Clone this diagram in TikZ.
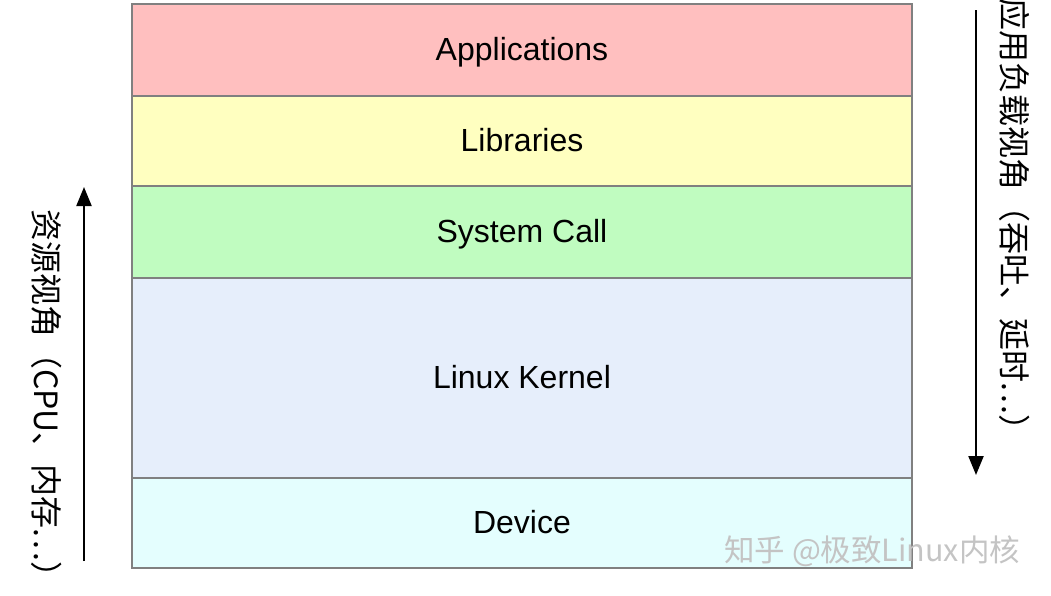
\documentclass[tikz,border=0pt]{standalone}
\usepackage{fontspec}
\setmainfont{Liberation Sans}
\newfontfamily\cjk{Noto Sans CJK SC}
\usetikzlibrary{arrows.meta}
\definecolor{cApp}{HTML}{FFBFBF}
\definecolor{cLib}{HTML}{FFFFC0}
\definecolor{cSys}{HTML}{C0FCC0}
\definecolor{cKer}{HTML}{E6EEFB}
\definecolor{cDev}{HTML}{E4FEFE}
\definecolor{cBorder}{HTML}{808080}
\definecolor{cMark}{HTML}{C4C4C4}
\begin{document}
\begin{tikzpicture}[x=1pt,y=-1pt,
  layer/.style={draw=cBorder, line width=2pt, minimum width=780pt, inner sep=0pt,
    text height=24pt, text depth=4pt, font=\fontsize{32}{36}\selectfont},
  sidetext/.style={rotate=-90, anchor=west, inner sep=0pt, font=\cjk\fontsize{32}{36}\selectfont},
  axis/.style={line width=2.2pt, -{Triangle[length=19pt,width=15pt]}}
]
\useasboundingbox (0,0) rectangle (1051,595);
\node[layer, fill=cApp, minimum height=92pt] (app) at (522,50) {Applications};
\node[layer, fill=cLib, minimum height=90pt] (lib) at (522,141) {Libraries};
\node[layer, fill=cSys, minimum height=92pt] (sys) at (522,232) {System Call};
\node[layer, fill=cKer, minimum height=200pt] (ker) at (522,378) {Linux Kernel};
\node[layer, fill=cDev, minimum height=90pt] (dev) at (522,523) {Device};
\coordinate (lb) at (84,561);
\coordinate (lt) at (84,187);
\coordinate (rt) at (976,10);
\coordinate (rb) at (976,475);
\draw[axis] (lb) -- (lt);
\draw[axis] (rt) -- (rb);
\node[sidetext] (ltext) at (47,209) {资源视角（CPU、内存.\kern3pt.\kern3pt.）};
\node[sidetext] (rtext) at (1015,-2) {应用负载视角（吞吐、延时.\kern3pt.\kern3pt.）};
\node[anchor=west, inner sep=0pt, text=cMark, font=\cjk\fontsize{30.5}{34}\selectfont] (mark) at (724,551) {知乎 @极致Linux内核};
\end{tikzpicture}
\end{document}
